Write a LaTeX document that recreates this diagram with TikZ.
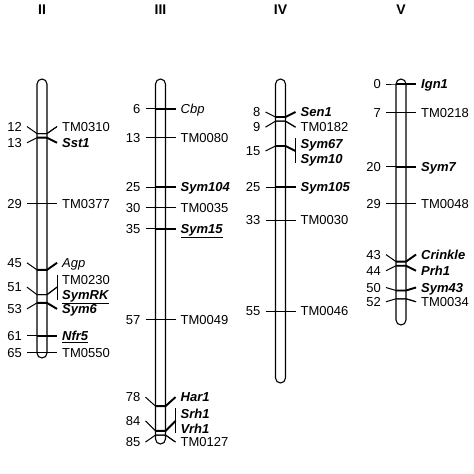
\documentclass[tikz,border=0pt]{standalone}
\usepackage{fontspec}
\setmainfont{Liberation Sans}
\usetikzlibrary{calc}
\newcommand{\gene}[1]{\textbf{\textit{#1}}}
\tikzset{
  chrom/.style={draw=black,line width=1.1pt,fill=white,rounded corners=5pt},
  thintick/.style={line width=1pt},
  thicktick/.style={line width=1.9pt},
  num/.style={font=\fontsize{13}{15}\selectfont,inner xsep=5pt,inner ysep=0pt,
    text height=9.3pt,text depth=0pt,anchor=east},
  tag/.style={font=\fontsize{13}{15}\selectfont,inner xsep=5pt,inner ysep=0pt,
    text height=9.3pt,text depth=0pt,anchor=west},
  chromlabel/.style={font=\bfseries\fontsize{14}{16}\selectfont}
}
% id, centre x, cM, label shift, tick style, name
\newcommand{\locus}[6]{%
  \coordinate (#1l) at (#2-5,84+4.13*#3);
  \coordinate (#1r) at (#2+5,84+4.13*#3);
  \node[num] (#1n) at (#2-15,84+4.13*#3+#4) {#3};
  \node[tag] (#1t) at (#2+15,84+4.13*#3+#4) {#6};
  \draw[thintick] (#1n.east) -- (#1l) -- (#1r) -- (#1t.west);
  \draw[#5] (#1l) -- (#1r) -- (#1t.west);
}
% two names on one locus, joined by a bar
\newcommand{\locuspair}[7]{%
  \coordinate (#1l) at (#2-5,84+4.13*#3);
  \coordinate (#1r) at (#2+5,84+4.13*#3);
  \coordinate (#1b) at (#2+15,84+4.13*#3+#4);
  \node[num] (#1n) at (#2-15,84+4.13*#3+#4) {#3};
  \node[tag] (#1u) at (#2+15,84+4.13*#3+#4-7.5) {#6};
  \node[tag] (#1d) at (#2+15,84+4.13*#3+#4+7.5) {#7};
  \draw[thintick] (#1n.east) -- (#1l) -- (#1r) -- (#1b);
  \draw[#5] (#1l) -- (#1r) -- (#1b);
  \draw[#5] ([yshift=5pt]#1u.west) -- ([yshift=-5pt]#1d.west);
}

\begin{document}
\begin{tikzpicture}[x=1pt,y=-1pt]
  \useasboundingbox (0,0) rectangle (474,474);

  \node[chromlabel] (hII) at (42,10) {II};
  \node[chromlabel] (hIII) at (160.5,10) {III};
  \node[chromlabel] (hIV) at (280.5,10) {IV};
  \node[chromlabel] (hV) at (401,10) {V};

  \draw[chrom] (37,79) rectangle (47,358);
  \draw[chrom] (155.5,79) rectangle (165.5,444);
  \draw[chrom] (275.5,79) rectangle (285.5,383);
  \draw[chrom] (396,79) rectangle (406,325);

  % II
  \locus{a12}{42}{12}{-7}{thintick}{TM0310}
  \locus{a13}{42}{13}{5}{thicktick}{\gene{Sst1}}
  \locus{a29}{42}{29}{0}{thintick}{TM0377}
  \locus{a45}{42}{45}{-7}{thicktick}{\textit{Agp}}
  \locuspair{a51}{42}{51}{-7.5}{thintick}{TM0230}{\underline{\gene{SymRK}}}
  \locus{a53}{42}{53}{6}{thicktick}{\gene{Sym6}}
  \locus{a61}{42}{61}{0}{thicktick}{\underline{\gene{Nfr5}}}
  \locus{a65}{42}{65}{0}{thintick}{TM0550}

  % III
  \locus{b6}{160.5}{6}{0}{thicktick}{\textit{Cbp}}
  \locus{b13}{160.5}{13}{0}{thintick}{TM0080}
  \locus{b25}{160.5}{25}{0}{thicktick}{\gene{Sym104}}
  \locus{b30}{160.5}{30}{0}{thintick}{TM0035}
  \locus{b35}{160.5}{35}{0}{thicktick}{\underline{\gene{Sym15}}}
  \locus{b57}{160.5}{57}{0}{thintick}{TM0049}
  \locus{b78}{160.5}{78}{-9}{thicktick}{\gene{Har1}}
  \locuspair{b84}{160.5}{84}{-10}{thicktick}{\gene{Srh1}}{\gene{Vrh1}}
  \locus{b85}{160.5}{85}{7}{thintick}{TM0127}

  % IV
  \locus{c8}{280.5}{8}{-5}{thicktick}{\gene{Sen1}}
  \locus{c9}{280.5}{9}{6}{thintick}{TM0182}
  \locuspair{c15}{280.5}{15}{5}{thicktick}{\gene{Sym67}}{\gene{Sym10}}
  \locus{c25}{280.5}{25}{0}{thicktick}{\gene{Sym105}}
  \locus{c33}{280.5}{33}{0}{thintick}{TM0030}
  \locus{c55}{280.5}{55}{0}{thintick}{TM0046}

  % V
  \locus{d0}{401}{0}{0}{thicktick}{\gene{Ign1}}
  \locus{d7}{401}{7}{0}{thintick}{TM0218}
  \locus{d20}{401}{20}{0}{thicktick}{\gene{Sym7}}
  \locus{d29}{401}{29}{0}{thintick}{TM0048}
  \locus{d43}{401}{43}{-7}{thicktick}{\gene{Crinkle}}
  \locus{d44}{401}{44}{5}{thicktick}{\gene{Prh1}}
  \locus{d50}{401}{50}{-3}{thicktick}{\gene{Sym43}}
  \locus{d52}{401}{52}{3}{thintick}{TM0034}
\end{tikzpicture}
\end{document}
